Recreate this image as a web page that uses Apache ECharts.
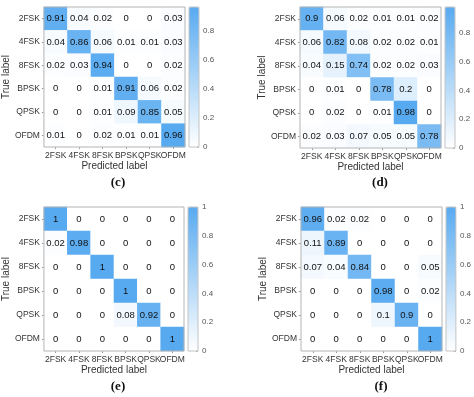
<!DOCTYPE html>
<html>
<head>
<meta charset="utf-8">
<script src="https://cdn.jsdelivr.net/npm/echarts@6/dist/echarts.min.js"></script>
<style>
  html, body { margin: 0; padding: 0; background: #fff; }
  #chart { width: 474px; height: 397px; }
</style>
</head>
<body>
<div id="chart"></div>
<script>
// class names, same on both axes
const classes = ['2FSK', '4FSK', '8FSK', 'BPSK', 'QPSK', 'OFDM']

// rows = true label, cols = predicted label
const matC = [
  [0.91, 0.04, 0.02, 0, 0, 0.03],
  [0.04, 0.86, 0.06, 0.01, 0.01, 0.03],
  [0.02, 0.03, 0.94, 0, 0, 0.02],
  [0, 0, 0.01, 0.91, 0.06, 0.02],
  [0, 0, 0.01, 0.09, 0.85, 0.05],
  [0.01, 0, 0.02, 0.01, 0.01, 0.96]
]
const matD = [
  [0.9, 0.06, 0.02, 0.01, 0.01, 0.02],
  [0.06, 0.82, 0.08, 0.02, 0.02, 0.01],
  [0.04, 0.15, 0.74, 0.02, 0.02, 0.03],
  [0, 0.01, 0, 0.78, 0.2, 0],
  [0, 0.02, 0, 0.01, 0.98, 0],
  [0.02, 0.03, 0.07, 0.05, 0.05, 0.78]
]
const matE = [
  [1, 0, 0, 0, 0, 0],
  [0.02, 0.98, 0, 0, 0, 0],
  [0, 0, 1, 0, 0, 0],
  [0, 0, 0, 1, 0, 0],
  [0, 0, 0, 0.08, 0.92, 0],
  [0, 0, 0, 0, 0, 1]
]
const matF = [
  [0.96, 0.02, 0.02, 0, 0, 0],
  [0.11, 0.89, 0, 0, 0, 0],
  [0.07, 0.04, 0.84, 0, 0, 0.05],
  [0, 0, 0, 0.98, 0, 0.02],
  [0, 0, 0, 0.1, 0.9, 0],
  [0, 0, 0, 0, 0, 1]
]
const captions = ['(c)', '(d)', '(e)', '(f)']
const colorbarTicks = [0, 0.2, 0.4, 0.6, 0.8, 1]

const mats = [matC, matD, matE, matF]
const panels = [
  { left: 42, top: 7, width: 143, height: 140, capX: 118, capY: 183 },
  { left: 300, top: 7, width: 141, height: 141, capX: 380, capY: 183 },
  { left: 42, top: 207, width: 142, height: 144, capX: 118, capY: 387 },
  { left: 301, top: 207, width: 141, height: 144, capX: 381, capY: 387 }
]
const FONT = '"Liberation Sans", Arial, sans-serif'

let grid = [], xAxis = [], yAxis = [], series = [], visualMap = [], graphic = []

panels.forEach(function (p, i) {
  let m = mats[i]
  let maxVal = Math.max.apply(null, m.map(r => Math.max.apply(null, r)))
  let data = []
  for (let r = 0; r < m.length; r++) {
    for (let c = 0; c < m[r].length; c++) {
      data.push([c, r, m[r][c]])
    }
  }
  // matrix
  grid.push({ left: p.left, top: p.top, width: p.width, height: p.height,
    show: true, borderColor: '#b4b4b4', borderWidth: 1, z: 3 })
  xAxis.push({
    type: 'category', gridIndex: 2 * i, data: classes,
    name: 'Predicted label', nameLocation: 'middle', nameGap: 14,
    nameTextStyle: { fontFamily: FONT, fontSize: 10, color: '#333' },
    axisLine: { show: false },
    axisTick: { show: true, alignWithLabel: true, length: 2, lineStyle: { color: '#999' } },
    axisLabel: { fontFamily: FONT, fontSize: 8.5, color: '#333', margin: 4, interval: 0 },
    splitLine: { show: false }
  })
  yAxis.push({
    type: 'category', gridIndex: 2 * i, data: classes, inverse: true,
    name: 'True label', nameLocation: 'middle', nameGap: 28,
    nameTextStyle: { fontFamily: FONT, fontSize: 10, color: '#333' },
    axisLine: { show: false },
    axisTick: { show: true, alignWithLabel: true, length: 2, lineStyle: { color: '#999' } },
    axisLabel: { fontFamily: FONT, fontSize: 8.5, color: '#333', margin: 4 },
    splitLine: { show: false }
  })
  series.push({
    type: 'heatmap', xAxisIndex: 2 * i, yAxisIndex: 2 * i, data: data,
    label: { show: true, fontFamily: FONT, fontSize: 9.5, color: '#111',
      formatter: function (d) { return String(d.value[2]) } },
    emphasis: { disabled: true }
  })

  // colorbar
  let cbLeft = p.left + p.width + 4
  grid.push({ left: cbLeft, top: p.top, width: 10, height: p.height,
    show: true, borderColor: '#c4c4c4', borderWidth: 1, z: 10 })
  xAxis.push({ type: 'category', gridIndex: 2 * i + 1, data: [''], show: false })
  yAxis.push({
    type: 'value', gridIndex: 2 * i + 1, position: 'right',
    min: 0, max: maxVal, interval: 0.2,
    axisLine: { show: false },
    axisTick: { show: true, inside: true, length: 2, lineStyle: { color: '#aaa' } },
    axisLabel: { fontFamily: FONT, fontSize: 8, color: '#555', margin: 4,
      showMaxLabel: colorbarTicks.indexOf(maxVal) >= 0,
      formatter: function (v) { return String(Math.round(v * 10) / 10) } },
    splitLine: { show: false }
  })
  visualMap.push({
    type: 'continuous', seriesIndex: i, min: 0, max: maxVal,
    left: cbLeft, top: p.top, itemWidth: 10, itemHeight: p.height,
    padding: 0, calculable: false, hoverLink: false, text: null,
    inRange: { color: ['#ffffff', '#58aaf0'] }
  })

  graphic.push({
    type: 'text', x: p.capX, y: p.capY,
    style: { text: captions[i], textAlign: 'center', textVerticalAlign: 'middle',
      font: 'bold 13px "Liberation Serif", "Times New Roman", serif', fill: '#111' }
  })
})

let myChart = echarts.init(document.getElementById('chart'))
myChart.setOption({
  animation: false,
  grid: grid,
  xAxis: xAxis,
  yAxis: yAxis,
  visualMap: visualMap,
  series: series,
  graphic: graphic
})
</script>
</body>
</html>
